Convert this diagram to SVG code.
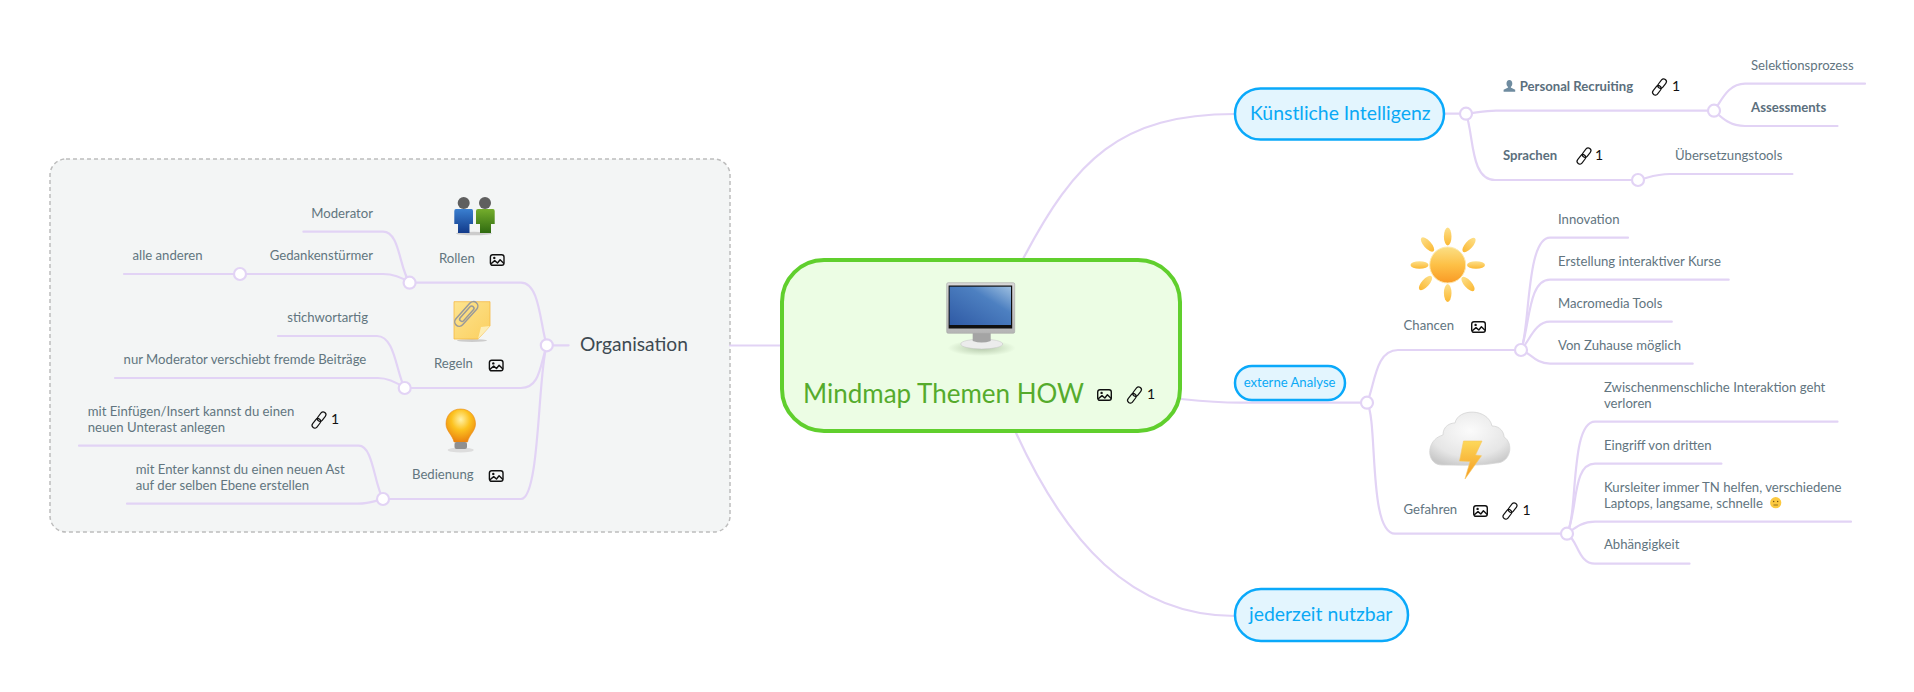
<svg xmlns="http://www.w3.org/2000/svg" width="1914" height="692" viewBox="0 0 1914 692">
<style>
text{font-family:"Lato","Noto Sans","Liberation Sans",sans-serif;fill:#62757f;font-size:13.15px}
.b{font-weight:700;fill:#5b6f7d}
.k{fill:#111;font-size:14px}
.c{fill:none;stroke:#e2d3f5;stroke-width:2.2;stroke-linecap:round}
.n{fill:#fff;stroke:#e2d3f5;stroke-width:2.2}
.t{fill:#e3f5fe;stroke:#0aa9fa;stroke-width:2.5}
.tt{fill:#0aa9f5;font-size:19.4px}
.ic{fill:none;stroke:#111;stroke-width:1.4;stroke-linejoin:round}
.lk{fill:none;stroke:#111;stroke-width:1.2}
</style>
<defs>
<symbol id="img" viewBox="0 0 15 12" overflow="visible">
<rect class="ic" x="0.7" y="0.7" width="13.6" height="10.6" rx="2.2"/>
<circle cx="4.6" cy="3.9" r="1.2" fill="#111"/>
<path class="ic" d="M1 10L5 6.6L7.8 9L10.4 5.8L14.2 9.4"/>
</symbol>
<g id="lnk"><g transform="rotate(-52 7 7)" class="lk"><rect x="-2.5" y="4.3" width="10.5" height="5.4" rx="2.7"/><rect x="6" y="4.3" width="10.5" height="5.4" rx="2.7"/></g></g>
<linearGradient id="scr" x1="0" y1="1" x2="1" y2="0"><stop offset="0" stop-color="#2f5aa5"/><stop offset=".65" stop-color="#4d80c1"/><stop offset="1" stop-color="#9dbfe0"/></linearGradient>
<linearGradient id="sil" x1="0" y1="0" x2="0" y2="1"><stop offset="0" stop-color="#d8d8d8"/><stop offset="1" stop-color="#b5b5b5"/></linearGradient>
<linearGradient id="sunG" x1="0" y1="0" x2="0" y2="1"><stop offset="0" stop-color="#fbdf84"/><stop offset=".5" stop-color="#fdc046"/><stop offset="1" stop-color="#f99a25"/></linearGradient>
<linearGradient id="ray" x1="0" y1="0" x2="0" y2="1"><stop offset="0" stop-color="#fde08a"/><stop offset="1" stop-color="#fbb833"/></linearGradient>
<linearGradient id="note" x1="0" y1="0" x2="1" y2="1"><stop offset="0" stop-color="#fde48f"/><stop offset="1" stop-color="#fbcf5f"/></linearGradient>
<radialGradient id="bulb" cx=".5" cy=".32" r=".7"><stop offset="0" stop-color="#fff2a8"/><stop offset=".45" stop-color="#fcc21f"/><stop offset="1" stop-color="#e97f0e"/></radialGradient>
<radialGradient id="cld" cx=".5" cy=".35" r=".7"><stop offset="0" stop-color="#fbfbfb"/><stop offset=".7" stop-color="#e6e6e6"/><stop offset="1" stop-color="#c9c9c9"/></radialGradient>
<linearGradient id="bolt" x1="0" y1="0" x2="0" y2="1"><stop offset="0" stop-color="#fdd85a"/><stop offset="1" stop-color="#f59a20"/></linearGradient>
<linearGradient id="blu" x1="0" y1="0" x2="0" y2="1"><stop offset="0" stop-color="#3a7fd0"/><stop offset="1" stop-color="#123a8a"/></linearGradient>
<linearGradient id="grn" x1="0" y1="0" x2="0" y2="1"><stop offset="0" stop-color="#74ad2c"/><stop offset="1" stop-color="#2f6a10"/></linearGradient>
<radialGradient id="shd"><stop offset="0" stop-color="#9bb08f" stop-opacity=".7"/><stop offset="1" stop-color="#9bb08f" stop-opacity="0"/></radialGradient>
</defs>

<rect id="boundary" x="50" y="159" width="680" height="373" rx="16" fill="#f3f5f5" stroke="#bdbdbd" stroke-width="1.5" stroke-dasharray="4 3"/>

<g id="connectors">
<path class="c" d="M730,345.5H780"/>
<path class="c" d="M546.8,345.3H568.6"/>
<path class="c" d="M546.8,345.3C540,325 540,282.7 521,282.7H409.6"/>
<path class="c" d="M546.8,345.3C540,365 540,388 521,388H404.7"/>
<path class="c" d="M546.8,345.3C538,370 540,499 521,499H383"/>
<path class="c" d="M303.4,231.7H383C400,231.7 399,268 409.6,282.7"/>
<path class="c" d="M124,274H383C393,274 400,276 409.6,282.7"/>
<path class="c" d="M278,336H377C395,336 396,372 404.7,388"/>
<path class="c" d="M115,378H378C388,378 396,382 404.7,388"/>
<path class="c" d="M79,445.7H358.7C373,445.7 374,483 383,499"/>
<path class="c" d="M127,503.7H358C368,503.7 375,501 383,499"/>
<path class="c" d="M1023,259C1075,160 1120,114 1235,114"/>
<path class="c" d="M1015.6,432C1065,540 1130,616 1235,616"/>
<path class="c" d="M1181,399C1200,401 1215,402.7 1240,402.7H1367"/>
<path class="c" d="M1445,113.7H1466"/>
<path class="c" d="M1466,113.7C1475,113 1485,110.7 1496,110.7H1714"/>
<path class="c" d="M1466,113.7C1474,135 1470,180 1495,180H1638"/>
<path class="c" d="M1714,110.7C1722,100 1728,83.7 1745,83.7H1865"/>
<path class="c" d="M1714,110.7C1722,118 1730,126 1745,126H1837.5"/>
<path class="c" d="M1638,180C1648,178 1655,174 1670,174H1792.4"/>
<path class="c" d="M1367,402.7C1375,385 1375,350 1398,350H1521"/>
<path class="c" d="M1367,402.7C1378,420 1368,533.7 1395,533.7H1567"/>
<path class="c" d="M1521,350C1530,330 1526,237.7 1550,237.7H1628"/>
<path class="c" d="M1521,350C1530,325 1528,279.7 1550,279.7H1728.7"/>
<path class="c" d="M1521,350C1530,340 1535,321.7 1550,321.7H1671.8"/>
<path class="c" d="M1521,350C1530,352 1535,363.7 1550,363.7H1692.7"/>
<path class="c" d="M1567,533.7C1578,515 1570,421.7 1595,421.7H1837.5"/>
<path class="c" d="M1567,533.7C1578,510 1572,463.7 1595,463.7H1721.4"/>
<path class="c" d="M1567,533.7C1575,528 1582,521.7 1595,521.7H1851"/>
<path class="c" d="M1567,533.7C1578,540 1578,563.7 1595,563.7H1689.5"/>
</g>

<g id="junctions">
<circle class="n" cx="546.8" cy="345.3" r="6"/>
<circle class="n" cx="409.6" cy="282.7" r="6"/>
<circle class="n" cx="404.7" cy="388" r="6"/>
<circle class="n" cx="383" cy="499" r="6"/>
<circle class="n" cx="240" cy="274" r="6"/>
<circle class="n" cx="1466" cy="113.7" r="6"/>
<circle class="n" cx="1714" cy="110.7" r="6"/>
<circle class="n" cx="1638" cy="180" r="6"/>
<circle class="n" cx="1367" cy="402.7" r="6"/>
<circle class="n" cx="1521" cy="350" r="6"/>
<circle class="n" cx="1567" cy="533.7" r="6"/>
</g>

<g id="root">
<rect x="782" y="260" width="398" height="171" rx="42" fill="#ecfde4" stroke="#60cf2d" stroke-width="4"/>
<ellipse cx="981.7" cy="348" rx="34" ry="8" fill="url(#shd)"/>
<ellipse cx="981.7" cy="344" rx="21" ry="5" fill="#ececec" stroke="#c4c4c4" stroke-width=".5"/>
<path d="M972.7,332H990.7V341Q981.7,344 972.7,341Z" fill="#a4a4a4"/>
<rect x="946.7" y="282.7" width="68" height="50.6" rx="1.5" fill="url(#sil)" stroke="#a6a6a6" stroke-width=".6"/>
<rect x="948.6" y="285.5" width="63.6" height="43" fill="#101010"/>
<rect x="949.6" y="286.7" width="61.4" height="38.3" fill="url(#scr)"/>
<text x="803" y="403" style="font-size:26px;fill:#55ab2c">Mindmap Themen HOW</text>
<use href="#img" x="1097" y="389" width="15" height="12"/>
<use href="#lnk" x="1127.5" y="388"/>
<text class="k" x="1147" y="399">1</text>
</g>

<g id="ki">
<rect class="t" x="1235" y="88.5" width="209" height="51" rx="25.5"/>
<text class="tt" x="1250" y="120">Künstliche Intelligenz</text>
</g>
<g id="personal">
<path d="M1509.3,80c2,0 3,1.6 3,3.5c0,1.6-.8,3-1.6,3.6c0,1 2.6,1.6 4.5,2.6v2h-11.6v-2c2-1 4.6-1.6 4.6-2.6c-.9-.6-1.7-2-1.7-3.6c0-1.9 1-3.5 2.8-3.5z" fill="#6f8ca0"/>
<text class="b" x="1519.7" y="91">Personal Recruiting</text>
<use href="#lnk" x="1652.5" y="80"/>
<text class="k" x="1672" y="91">1</text>
</g>
<g id="selektion"><text x="1751" y="70">Selektionsprozess</text></g>
<g id="assessments"><text class="b" x="1751" y="111.7">Assessments</text></g>
<g id="sprachen">
<text class="b" x="1503" y="160">Sprachen</text>
<use href="#lnk" x="1577" y="149"/>
<text class="k" x="1595" y="160">1</text>
</g>
<g id="uebersetzung"><text x="1675" y="160">Übersetzungstools</text></g>

<g id="extern">
<rect x="1235" y="366" width="110" height="34" rx="17" class="t"/>
<text x="1243.7" y="387" style="font-size:13.1px;fill:#0aa9f5">externe Analyse</text>
</g>

<g id="chancen">
<g fill="url(#ray)">
<ellipse cx="1447.7" cy="236.5" rx="3.8" ry="9"/>
<ellipse cx="1447.7" cy="293" rx="3.8" ry="9"/>
<ellipse cx="1419.5" cy="265" rx="9" ry="3.8"/>
<ellipse cx="1476" cy="265" rx="9" ry="3.8"/>
<ellipse cx="1427.5" cy="244.5" rx="3.8" ry="9" transform="rotate(-42 1427.5 244.5)"/>
<ellipse cx="1469" cy="245" rx="3.8" ry="9" transform="rotate(42 1469 245)"/>
<ellipse cx="1425.5" cy="283" rx="3.8" ry="9" transform="rotate(42 1425.5 283)"/>
<ellipse cx="1468" cy="284" rx="3.8" ry="9" transform="rotate(-42 1468 284)"/>
</g>
<circle cx="1447.7" cy="265" r="18" fill="url(#sunG)" stroke="#fde9b0" stroke-width="1"/>
<text x="1403.6" y="330">Chancen</text>
<use href="#img" x="1471" y="321" width="15" height="12"/>
</g>
<g id="innovation"><text x="1558" y="224">Innovation</text></g>
<g id="erstellung"><text x="1558" y="266">Erstellung interaktiver Kurse</text></g>
<g id="macromedia"><text x="1558" y="308">Macromedia Tools</text></g>
<g id="zuhause"><text x="1558" y="350">Von Zuhause möglich</text></g>

<g id="gefahren">
<path d="M1442,465C1426,465 1425,440 1443,435C1443,426 1450,423 1455,423C1458,408 1488,408 1492,426C1500,426 1504,432 1504,437C1514,443 1511,463 1496,463C1480,466 1460,465 1442,465Z" fill="url(#cld)" stroke="#d4d4d4" stroke-width=".8"/>
<polygon points="1463.5,441 1482,441 1475.5,455 1481.5,455.7 1465,479 1470,461.5 1459.5,461" fill="url(#bolt)" stroke="#f6c860" stroke-width=".6"/>
<text x="1403.6" y="514">Gefahren</text>
<use href="#img" x="1473" y="505" width="15" height="12"/>
<use href="#lnk" x="1503" y="504"/>
<text class="k" x="1522.4" y="515">1</text>
</g>
<g id="zwischen"><text x="1604" y="391.7">Zwischenmenschliche Interaktion geht</text><text x="1604" y="407.7">verloren</text></g>
<g id="eingriff"><text x="1604" y="450">Eingriff von dritten</text></g>
<g id="kursleiter"><text x="1604" y="491.7">Kursleiter immer TN helfen, verschiedene</text><text x="1604" y="507.7">Laptops, langsame, schnelle</text>
<circle cx="1775.7" cy="502.7" r="5.6" fill="#fcc93f"/><circle cx="1773.7" cy="501.5" r=".7" fill="#6b4a10"/><circle cx="1777.7" cy="501.5" r=".7" fill="#6b4a10"/><path d="M1773.5,505h4.4" stroke="#6b4a10" stroke-width=".7"/></g>
<g id="abhaengig"><text x="1604" y="549">Abhängigkeit</text></g>

<g id="jederzeit">
<rect class="t" x="1235" y="589" width="173" height="52" rx="26"/>
<text class="tt" x="1249" y="621">jederzeit nutzbar</text>
</g>

<g id="organisation"><text x="580" y="351" style="font-size:19.2px;fill:#3e4a52">Organisation</text></g>

<g id="rollen">
<ellipse cx="474" cy="233.5" rx="18" ry="1.8" fill="#ccc"/>
<circle cx="463.7" cy="203" r="6" fill="#5f5f5f"/><circle cx="485" cy="203" r="6" fill="#5f5f5f"/>
<path d="M456,209H471.5Q473,209 473,211V224H469.5V233H458V224H454.3V211Q454.3,209 456,209Z" fill="url(#blu)"/>
<path d="M478,209H493Q494.7,209 494.7,211V224H491V233H480V224H476V211Q476,209 478,209Z" fill="url(#grn)"/>
<text x="439" y="263">Rollen</text>
<use href="#img" x="489.7" y="254" width="15" height="12"/>
</g>
<g id="moderator"><text x="373" y="218" text-anchor="end">Moderator</text></g>
<g id="gedanken"><text x="373" y="260" text-anchor="end">Gedankenstürmer</text></g>
<g id="alle"><text x="132.5" y="260">alle anderen</text></g>

<g id="regeln">
<ellipse cx="472" cy="340.5" rx="15" ry="1.5" fill="#ccc"/>
<path d="M454,301.7H490V326L478,339H454Z" fill="url(#note)" stroke="#f5b945" stroke-width=".8"/>
<path d="M478,339L481,327L490,326Z" fill="#fdedb5"/>
<g transform="rotate(42 466 315)" fill="none" stroke="#9a9a9a" stroke-width="1.5"><rect x="461" y="299" width="9" height="30" rx="4.5"/><rect x="463.5" y="304" width="4.5" height="19" rx="2.2"/></g>
<text x="434" y="368">Regeln</text>
<use href="#img" x="488.7" y="359.5" width="15" height="12"/>
</g>
<g id="stichwort"><text x="368" y="322" text-anchor="end">stichwortartig</text></g>
<g id="nurmod"><text x="123.6" y="364">nur Moderator verschiebt fremde Beiträge</text></g>

<g id="bedienung">
<ellipse cx="460.7" cy="450" rx="13" ry="2.5" fill="#ddd"/>
<path d="M460.7,409C470,409 475.5,416 475.5,424C475.5,431 469,435 467.5,442H454C452.5,435 446,431 446,424C446,416 451,409 460.7,409Z" fill="url(#bulb)" stroke="#ea8a16" stroke-width=".6"/>
<rect x="454.5" y="442" width="12.5" height="7" rx="2" fill="#8f8f8f"/>
<text x="412" y="479">Bedienung</text>
<use href="#img" x="488.7" y="470" width="15" height="12"/>
</g>
<g id="einfuegen"><text x="87.7" y="416">mit Einfügen/Insert kannst du einen</text><text x="87.7" y="432">neuen Unterast anlegen</text>
<use href="#lnk" x="312" y="413"/>
<text class="k" x="331" y="424">1</text></g>
<g id="enter"><text x="135.7" y="474">mit Enter kannst du einen neuen Ast</text><text x="135.7" y="490">auf der selben Ebene erstellen</text></g>
</svg>
